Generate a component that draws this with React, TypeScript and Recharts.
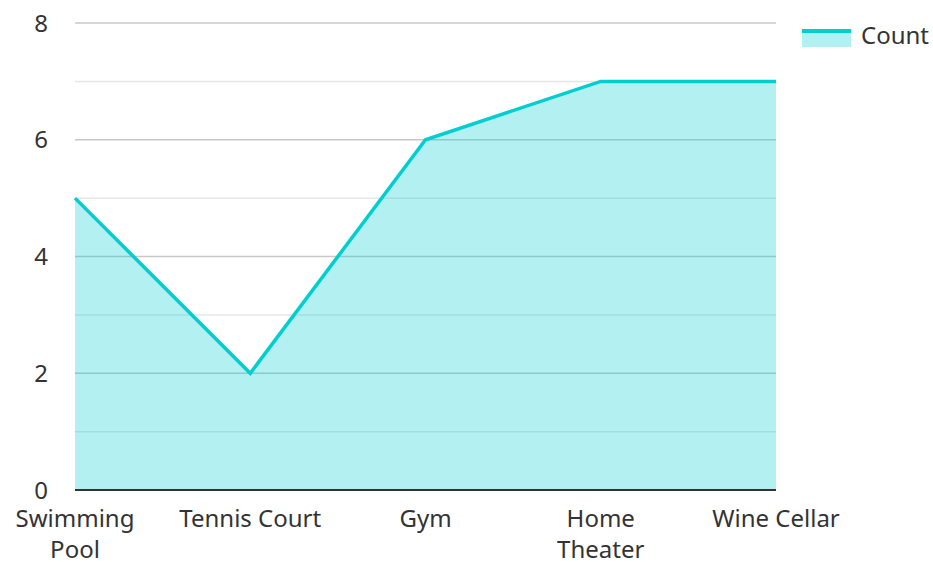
import { AreaChart, Area, XAxis, YAxis, CartesianGrid } from 'recharts';

// ─────────────────────────────────────────────────────────────────────────────
// Data
// ─────────────────────────────────────────────────────────────────────────────

const AMENITIES = ['Swimming Pool', 'Tennis Court', 'Gym', 'Home Theater', 'Wine Cellar'];
const COUNTS = [5, 2, 6, 7, 7];
const Y_TICKS = [0, 2, 4, 6, 8];
const MINOR_TICKS = [1, 3, 5, 7];
const SERIES_NAME = 'Count';

const data = AMENITIES.map((name, i) => ({ name, count: COUNTS[i] }));

const TEAL = '#00CED1';
const FONT = '"Noto Sans", "Open Sans", sans-serif';
const TEXT = '#333333';
const FONT_SIZE = 24;
const MAX_LABEL_WIDTH = 152;

// wrap long category labels word by word
let ctx: CanvasRenderingContext2D | null = null;
function wrapLabel(label: string): string[] {
  if (!ctx) ctx = document.createElement('canvas').getContext('2d');
  const measure = (s: string) => {
    if (!ctx) return s.length * FONT_SIZE * 0.55;
    ctx.font = `${FONT_SIZE}px ${FONT}`;
    return ctx.measureText(s).width;
  };
  const lines: string[] = [];
  let cur = '';
  for (const word of label.split(' ')) {
    const next = cur ? `${cur} ${word}` : word;
    if (cur && measure(next) > MAX_LABEL_WIDTH) {
      lines.push(cur);
      cur = word;
    } else {
      cur = next;
    }
  }
  if (cur) lines.push(cur);
  return lines;
}

function CategoryTick(props: any) {
  const { x, y, payload } = props;
  const lines = wrapLabel(String(payload.value));
  return (
    <text x={x} y={y} textAnchor="middle" fontSize={FONT_SIZE} fontFamily={FONT} fill={TEXT}>
      {lines.map((l, i) => (
        <tspan key={i} x={x} dy={i === 0 ? '0.71em' : 31}>{l}</tspan>
      ))}
    </text>
  );
}

export default function App() {
  return (
    <div style={{ position: 'absolute', left: 0, top: 0, width: 933, height: 562, background: '#fff' }}>
      <AreaChart width={933} height={562} data={data} margin={{ top: 23, right: 157, bottom: 0, left: 0 }}>
        <CartesianGrid vertical={false} horizontalValues={MINOR_TICKS} stroke="#e6e6e6" strokeWidth={1.5} />
        <CartesianGrid vertical={false} stroke="#c8c8c8" strokeWidth={1.5} />
        <XAxis
          dataKey="name"
          tick={<CategoryTick />}
          tickLine={false}
          axisLine={{ stroke: '#333333', strokeWidth: 2 }}
          interval={0}
          height={72}
          tickMargin={14}
        />
        <YAxis
          domain={[0, 8]}
          ticks={Y_TICKS}
          width={75}
          tickLine={false}
          axisLine={false}
          tickMargin={21}
          tick={{ fontSize: FONT_SIZE, fontFamily: FONT, fill: TEXT }}
        />
        <Area
          type="linear"
          dataKey="count"
          name={SERIES_NAME}
          stroke={TEAL}
          strokeWidth={3.5}
          fill={TEAL}
          fillOpacity={0.3}
          dot={false}
          activeDot={false}
          isAnimationActive={false}
        />
      </AreaChart>

      {/* Legend */}
      <div
        style={{
          position: 'absolute', left: 802, top: 18, display: 'flex', alignItems: 'center',
          fontFamily: FONT, fontSize: FONT_SIZE, color: TEXT, whiteSpace: 'nowrap',
        }}
      >
        <svg width={49} height={18} style={{ marginRight: 10, marginTop: 6 }}>
          <rect x={0} y={0} width={49} height={18} fill={TEAL} fillOpacity={0.3} />
          <rect x={0} y={0} width={49} height={4} fill={TEAL} />
        </svg>
        <span>{SERIES_NAME}</span>
      </div>
    </div>
  );
}
